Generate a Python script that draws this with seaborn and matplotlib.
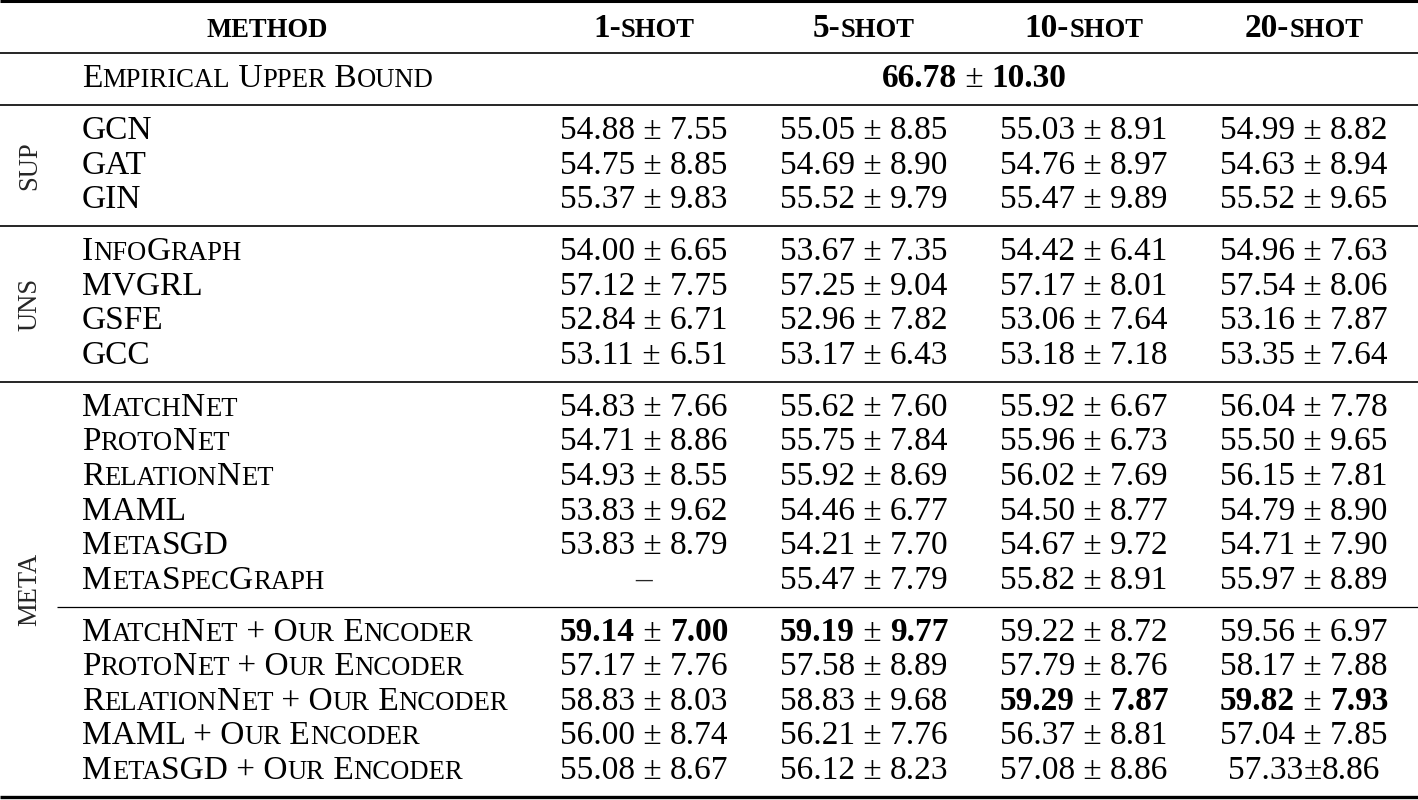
import matplotlib
matplotlib.use("Agg")
import matplotlib.pyplot as plt
import seaborn as sns
import pandas as pd

# --- table data (lowercase letters in names are set in small caps) ---
shots = ["1-shot", "5-shot", "10-shot", "20-shot"]
group_names = ["sup", "uns", "meta"]

methods = ["GCN", "GAT", "GIN",
           "InfoGraph", "MVGRL", "GSFE", "GCC",
           "MatchNet", "ProtoNet", "RelationNet", "MAML", "MetaSGD", "MetaSpecGraph",
           "MatchNet + Our Encoder", "ProtoNet + Our Encoder",
           "RelationNet + Our Encoder", "MAML + Our Encoder", "MetaSGD + Our Encoder"]
groups = ["sup"] * 3 + ["uns"] * 4 + ["meta"] * 11
blocks = [3, 4, 6, 5]  # row blocks separated by rules (last two share the meta label)

mean_1 = [54.88, 54.75, 55.37, 54.00, 57.12, 52.84, 53.11, 54.83, 54.71, 54.93, 53.83, 53.83, None,
          59.14, 57.17, 58.83, 56.00, 55.08]
std_1 = [7.55, 8.85, 9.83, 6.65, 7.75, 6.71, 6.51, 7.66, 8.86, 8.55, 9.62, 8.79, None,
         7.00, 7.76, 8.03, 8.74, 8.67]
mean_5 = [55.05, 54.69, 55.52, 53.67, 57.25, 52.96, 53.17, 55.62, 55.75, 55.92, 54.46, 54.21, 55.47,
          59.19, 57.58, 58.83, 56.21, 56.12]
std_5 = [8.85, 8.90, 9.79, 7.35, 9.04, 7.82, 6.43, 7.60, 7.84, 8.69, 6.77, 7.70, 7.79,
         9.77, 8.89, 9.68, 7.76, 8.23]
mean_10 = [55.03, 54.76, 55.47, 54.42, 57.17, 53.06, 53.18, 55.92, 55.96, 56.02, 54.50, 54.67, 55.82,
           59.22, 57.79, 59.29, 56.37, 57.08]
std_10 = [8.91, 8.97, 9.89, 6.41, 8.01, 7.64, 7.18, 6.67, 6.73, 7.69, 8.77, 9.72, 8.91,
          8.72, 8.76, 7.87, 8.81, 8.86]
mean_20 = [54.99, 54.63, 55.52, 54.96, 57.54, 53.16, 53.35, 56.04, 55.50, 56.15, 54.79, 54.71, 55.97,
           59.56, 58.17, 59.82, 57.04, 57.33]
std_20 = [8.82, 8.94, 9.65, 7.63, 8.06, 7.87, 7.64, 7.78, 9.65, 7.81, 8.90, 7.90, 8.89,
          6.97, 7.88, 7.93, 7.85, 8.86]

ub_label = "Empirical Upper Bound"
ub_mean, ub_std = 66.78, 10.30
compact_cells = [(17, "20-shot")]  # printed without spaces in the original

means = pd.DataFrame({s: m for s, m in zip(shots, [mean_1, mean_5, mean_10, mean_20])}, index=methods)
stds = pd.DataFrame({s: m for s, m in zip(shots, [std_1, std_5, std_10, std_20])}, index=methods)
best = means.idxmax()

# --- style ---
sns.set_theme(style="white")
plt.rcParams["font.family"] = ["Liberation Serif", "DejaVu Serif"]
FS = 24
SC = 0.8

fig = plt.figure(figsize=(14.18, 8.0), dpi=100)
ax = fig.add_axes([0, 0, 1, 1])
ax.set_xlim(0, 1418)
ax.set_ylim(800, 0)
ax.axis("off")
renderer = fig.canvas.get_renderer()


def advance(txt, size, weight):
    def w(s):
        t = ax.text(0, 0, s, fontsize=size, fontweight=weight)
        width = t.get_window_extent(renderer).width
        t.remove()
        return width
    return w("|" + txt + "|") - w("||")


def draw_runs(x, y, runs, ha="left"):
    widths = [advance(t, s, w) for t, s, w in runs]
    x0 = x - sum(widths) / 2 if ha == "center" else x
    for (t, s, w), dw in zip(runs, widths):
        ax.text(x0, y, t, fontsize=s, fontweight=w, va="baseline", ha="left", color="black")
        x0 += dw


def sc_runs(label, size=FS, weight="normal"):
    runs = []
    for ch in label:
        sz = size * SC if ch.islower() else size
        if runs and runs[-1][1] == sz:
            runs[-1][0] += ch.upper()
        else:
            runs.append([ch.upper(), sz, weight])
    return runs


def cell_runs(m, s, bold=False, compact=False):
    w = "bold" if bold else "normal"
    sep = "±" if compact else " ± "
    return [[f"{m:.2f}", FS, w], [sep, FS, "normal"], [f"{s:.2f}", FS, w]]


# --- layout ---
P, PAD, TOP, BASE = 34.6, 17.3, 1.2, 34.0
col_x = [644, 864, 1084, 1304]
name_x, method_hdr_x, group_x = 82, 267, 30

all_blocks = [1, 1] + blocks
rules = [TOP]
for n in all_blocks:
    rules.append(rules[-1] + n * P + PAD)

# rules
ax.hlines(rules[0], 0, 1418, color="black", lw=2.2)
for r in rules[1:5]:
    ax.hlines(r, 0, 1418, color="black", lw=1.2)
ax.hlines(rules[5], 57, 1418, color="black", lw=0.9)
ax.hlines(rules[6], 0, 1418, color="black", lw=2.4)

# header
yb = rules[0] + BASE + 1.5
draw_runs(method_hdr_x, yb, sc_runs("method", weight="bold"), ha="center")
for cx, s in zip(col_x, shots):
    draw_runs(cx, yb, sc_runs(s, weight="bold"), ha="center")

# upper bound row
yb = rules[1] + BASE
draw_runs(name_x, yb, sc_runs(ub_label))
draw_runs(sum(col_x) / 4, yb, cell_runs(ub_mean, ub_std, bold=True), ha="center")

# body rows
row_y = []
for bi, n in enumerate(blocks):
    for k in range(n):
        row_y.append(rules[2 + bi] + BASE + k * P)
for i, name in enumerate(methods):
    yb = row_y[i]
    draw_runs(name_x, yb, sc_runs(name))
    for cx, s in zip(col_x, shots):
        m, sd = means.loc[name, s], stds.loc[name, s]
        if pd.isna(m):
            ax.text(cx, yb, "–", fontsize=FS, ha="center", va="baseline")
            continue
        draw_runs(cx, yb, cell_runs(m, sd, bold=(best[s] == name),
                                    compact=(i, s) in compact_cells), ha="center")

# group labels (rotated small caps)
spans = {"sup": (rules[2], rules[3]), "uns": (rules[3], rules[4]), "meta": (rules[4], rules[6])}
for g in group_names:
    a, b = spans[g]
    ax.text(group_x, (a + b) / 2, g.upper(), fontsize=FS * SC, rotation=90,
            ha="center", va="center")

fig.savefig("out.png", dpi=100, facecolor="white")
